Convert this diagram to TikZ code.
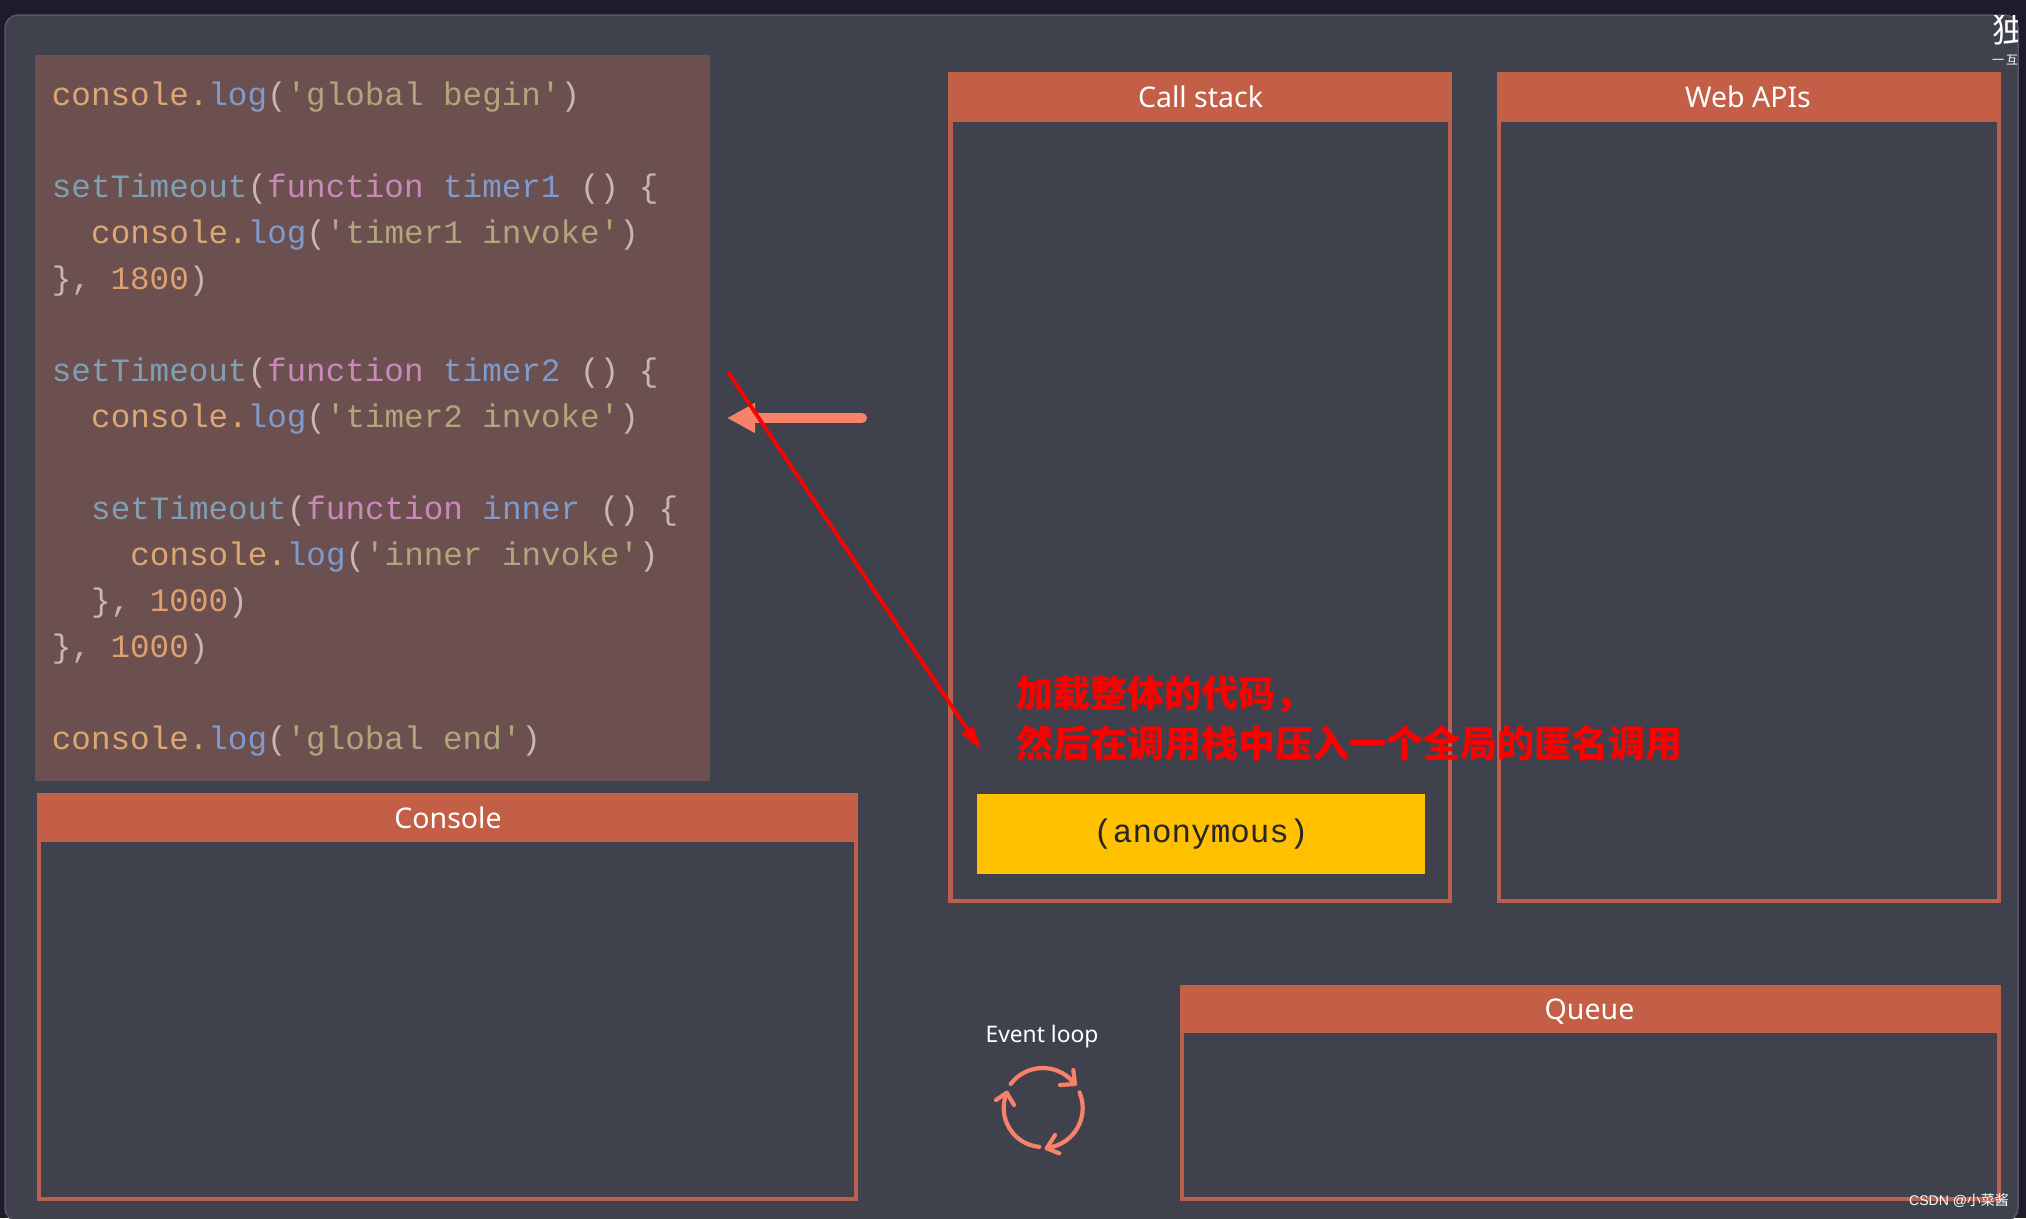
\documentclass[tikz,border=0pt]{standalone}
\usepackage{xcolor}
\usepackage{fontspec}
\setmainfont{Noto Sans}
\newfontfamily\codefont{Liberation Mono}
\newfontfamily\cjk{Noto Sans CJK SC}
\newfontfamily\markfont{Liberation Sans}
\usetikzlibrary{arrows.meta, positioning}

\definecolor{pagedark}{HTML}{1F1B2A}
\definecolor{paneldark}{HTML}{3F414D}
\definecolor{paneledge}{HTML}{555763}
\definecolor{codebrown}{HTML}{6C5050}
\definecolor{headred}{HTML}{C35F47}
\definecolor{edgered}{HTML}{BC5F50}
\definecolor{stackyellow}{HTML}{FFC000}
\definecolor{loopsalmon}{HTML}{F7826A}
\definecolor{cobj}{HTML}{DDA773}
\definecolor{cfun}{HTML}{7F9ACB}
\definecolor{cstr}{HTML}{AFA67C}
\definecolor{cset}{HTML}{7FA0B4}
\definecolor{ckey}{HTML}{CB88BA}
\definecolor{cpar}{HTML}{C8B6B0}
\definecolor{cnum}{HTML}{DFA070}

\newcommand{\cObj}[1]{\textcolor{cobj}{#1}}
\newcommand{\cFun}[1]{\textcolor{cfun}{#1}}
\newcommand{\cStr}[1]{\textcolor{cstr}{#1}}
\newcommand{\cSet}[1]{\textcolor{cset}{#1}}
\newcommand{\cKey}[1]{\textcolor{ckey}{#1}}
\newcommand{\cNum}[1]{\textcolor{cnum}{#1}}
\newcommand{\logLine}[1]{\cObj{console.}\cFun{log}(\cStr{'#1'})}
\newcommand{\timerLine}[1]{\cSet{setTimeout}(\cKey{function} \cFun{#1} () \{}

\tikzset{
  codeline/.style={anchor=base west,inner sep=0pt,text=cpar,font=\codefont\fontsize{32.6}{36}\selectfont},
  headtitle/.style={text=white,font=\fontsize{28.5}{32}\selectfont},
  framebox/.style={draw=edgered,line width=4.5pt},
  loopline/.style={draw=loopsalmon,line width=4.2pt,line cap=round,line join=round},
  redtext/.style={anchor=base west,inner sep=0pt,text=red,font=\cjk\bfseries\fontsize{37}{40}\selectfont}
}

\begin{document}
\begin{tikzpicture}[x=1pt,y=-1pt]
  \useasboundingbox (0,0) rectangle (2026,1218);
  \fill[pagedark] (0,0) rectangle (2026,1218);

  % Slide panel
  \draw[fill=paneldark,draw=paneledge,line width=1.5pt,rounded corners=13pt] (5,15) rectangle (2018,1221);

  % Clipped glyphs in the corner
  \begin{scope}
    \clip (1980,15.5) rectangle (2017.5,70);
    \node[anchor=base west,inner sep=0pt,text=white!80,font=\cjk\fontsize{34}{36}\selectfont] (cornermark) at (1992,42) {独};
    \node[anchor=base west,inner sep=0pt,text=white!50,font=\cjk\fontsize{12}{13}\selectfont] (cornersub) at (1992,64) {一\hspace{2pt}互};
  \end{scope}

  % Code block
  \fill[codebrown] (34.5,55) rectangle (710,781);
  \node[codeline] (line0) at (51.7,105) {\logLine{global begin}};
  \node[codeline] (line2) at (51.7,197) {\timerLine{timer1}};
  \node[codeline] (line3) at (91,243) {\logLine{timer1 invoke}};
  \node[codeline] (line4) at (51.7,289) {\}, \cNum{1800})};
  \node[codeline] (line6) at (51.7,381) {\timerLine{timer2}};
  \node[codeline] (line7) at (91,427) {\logLine{timer2 invoke}};
  \node[codeline] (line9) at (91,519) {\timerLine{inner}};
  \node[codeline] (line10) at (130.2,565) {\logLine{inner invoke}};
  \node[codeline] (line11) at (91,611) {\}, \cNum{1000})};
  \node[codeline] (line12) at (51.7,657) {\}, \cNum{1000})};
  \node[codeline] (line14) at (51.7,749) {\logLine{global end}};

  % Console
  \draw[framebox] (39,795) rectangle (856,1199);
  \fill[headred] (37,793) rectangle (858,842);
  \node[headtitle] (console) at (448,817.5) {Console};

  % Call stack
  \draw[framebox] (950.5,75) rectangle (1450,901);
  \fill[headred] (948,72) rectangle (1452,122);
  \node[headtitle] (callstack) at (1200.5,97) {Call stack};

  % Web APIs
  \draw[framebox] (1499,75) rectangle (1999,901);
  \fill[headred] (1497,72) rectangle (2001,122);
  \node[headtitle] (webapis) at (1748,97) {Web APIs};

  % Queue
  \draw[framebox] (1182,987) rectangle (1999,1199);
  \fill[headred] (1180,985) rectangle (2001,1033);
  \node[headtitle] (queue) at (1589.5,1012) {Queue};

  % Frame on the stack
  \node[fill=stackyellow,minimum width=447.5pt,minimum height=80pt,inner sep=0pt,text=black!85,font=\codefont\fontsize{32.6}{36}\selectfont] (anonymous) at (1201,834) {(anonymous)};

  % Event loop
  \node[text=white!90,font=\fontsize{22.8}{26}\selectfont] (eventloop) at (1042,1037) {Event loop};
  \coordinate (loopmid) at (1042.7,1108);
  \coordinate (tipa) at (1075,1084);
  \coordinate (tipb) at (1046.7,1148.3);
  \coordinate (tipc) at (1006.7,1092.7);
  \draw[loopline] (loopmid) ++(143:40pt) arc[start angle=143,end angle=37,radius=40pt];
  \draw[loopline] (1073.3,1070) -- (tipa) -- (1060,1085);
  \draw[loopline] (loopmid) ++(23:40pt) arc[start angle=23,end angle=-84,radius=40pt];
  \draw[loopline] (1055,1135) -- (tipb) -- (1059.3,1153.3);
  \draw[loopline] (loopmid) ++(265:39pt) arc[start angle=265,end angle=157,radius=39pt];
  \draw[loopline] (996,1100) -- (tipc) -- (1014,1105);

  % Arrows beside the code
  \coordinate (salmonstart) at (862,418);
  \coordinate (salmontip) at (727,418);
  \draw[draw=loopsalmon,line width=10pt,line cap=round,-{Triangle[length=28pt,width=28pt]}] (salmonstart) -- (salmontip);
  \coordinate (redstart) at (728,372);
  \coordinate (redtip) at (981,750);
  \draw[red,line width=3.8pt,-{Triangle[length=24pt,width=13pt]}] (redstart) -- (redtip);

  % Annotation
  \node[redtext] (redone) at (1016.5,707) {加载整体的代码，};
  \node[redtext] (redtwo) at (1016.5,757) {然后在调用栈中压入一个全局的匿名调用};

  % Watermark
  \node[anchor=base west,inner sep=0pt,text=white!75,font=\markfont\fontsize{14}{15}\selectfont] (csdn) at (1909,1205) {CSDN @{\cjk 小菜酱}};
\end{tikzpicture}
\end{document}
